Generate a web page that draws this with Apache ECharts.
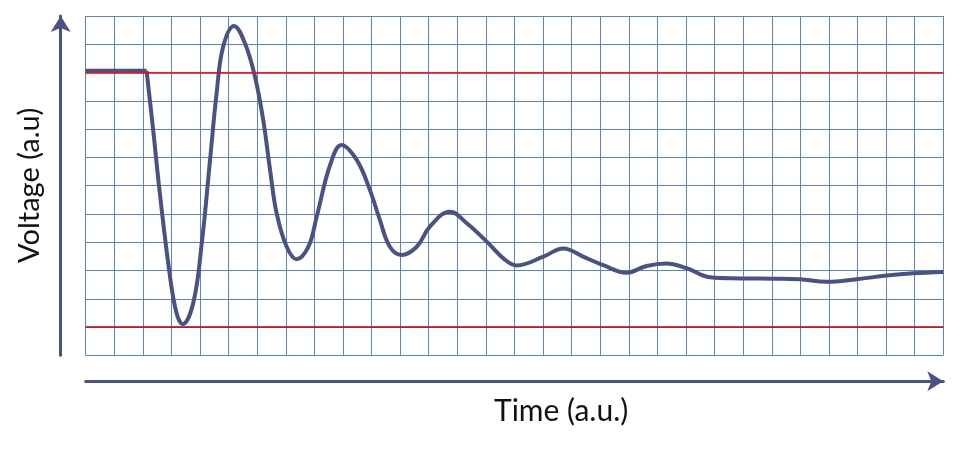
<!DOCTYPE html>
<html>
<head>
<meta charset="utf-8">
<script src="https://cdn.jsdelivr.net/npm/echarts@6/dist/echarts.min.js"></script>
<style>
html,body{margin:0;padding:0;background:#fff;}
#chart{width:962px;height:454px;}
</style>
</head>
<body>
<div id="chart"></div>
<script>
// Data (time in grid units, voltage in grid units)
const timeValues = [0, 2.13, 2.36, 2.60, 2.95, 3.18, 3.39, 3.76, 4.06, 4.35, 4.58, 4.81, 5.19, 5.57, 5.92, 6.21, 6.45, 6.68, 7.03, 7.38, 7.79, 8.08, 8.55, 8.95, 9.48, 9.94, 10.29, 10.64, 11.05, 11.58, 12.04, 12.74, 13.33, 14.03, 14.61, 15.08, 16.01, 16.71, 17.40, 18.10, 18.92, 19.62, 20.30, 21.02, 21.84, 22.89, 24.05, 24.98, 25.92, 26.97, 28.02, 28.95, 30];
const voltageValues = [10.06, 10.06, 7.97, 5.67, 2.78, 1.49, 1.10, 1.84, 3.96, 6.91, 9.27, 10.92, 11.65, 11.04, 9.86, 8.32, 6.55, 5.02, 3.84, 3.40, 3.84, 4.90, 6.73, 7.44, 6.91, 5.85, 4.79, 3.84, 3.55, 3.84, 4.55, 5.08, 4.67, 4.02, 3.43, 3.18, 3.49, 3.78, 3.49, 3.19, 2.92, 3.16, 3.25, 3.08, 2.76, 2.72, 2.71, 2.69, 2.60, 2.69, 2.82, 2.90, 2.95];
const stepIndex = 1; // last point of the flat start
const referenceLevels = [10, 1];
const xRange = [0, 30];
const yRange = [0, 12];
const xTitle = 'Time (a.u.)';
const yTitle = 'Voltage (a.u)';

const curve = timeValues.map((t, i) => [t, voltageValues[i]]);
const flatPart = curve.slice(0, stepIndex + 1);
const ringPart = curve.slice(stepIndex);
const ink = '#4a5183';
const gridBlue = '#5b82cf';
const font = 'Lato, "Open Sans", sans-serif';

const chart = echarts.init(document.getElementById('chart'), null, {renderer: 'canvas'});
const axisCommon = {
  type: 'value', interval: 1,
  axisTick: {show: false}, axisLabel: {show: false},
  splitLine: {show: true, lineStyle: {color: gridBlue, width: 1}}
};
chart.setOption({
  animation: false,
  backgroundColor: '#ffffff',
  grid: {left: 85.7, top: 16, right: 18.7, bottom: 98.7, outerBoundsMode: 'none', containLabel: false},
  xAxis: Object.assign({}, axisCommon, {
    min: xRange[0], max: xRange[1], offset: 26,
    axisLine: {show: true, onZero: false, symbol: ['none', 'arrow'], symbolSize: [15, 16], lineStyle: {color: ink, width: 3}}
  }),
  yAxis: Object.assign({}, axisCommon, {
    min: yRange[0], max: yRange[1], offset: 25,
    axisLine: {show: true, onZero: false, symbol: ['none', 'arrow'], symbolSize: [15, 16], lineStyle: {color: ink, width: 3}}
  }),
  graphic: [
    {type: 'text', left: 494, top: 396, style: {text: xTitle, font: '30px ' + font, fill: '#111'}},
    {type: 'text', x: 30, y: 263, rotation: Math.PI / 2, style: {text: yTitle, font: '29px ' + font, fill: '#111', textVerticalAlign: 'middle'}}
  ],
  series: [
    {
      type: 'line', data: [], z: 1, silent: true,
      markLine: {
        silent: true, symbol: 'none', label: {show: false},
        data: [
          {yAxis: referenceLevels[0], lineStyle: {color: '#ff0000', width: 1.5, type: 'solid'}},
          {yAxis: referenceLevels[1], lineStyle: {color: '#c00000', width: 1.5, type: 'solid'}}
        ]
      }
    },
    {
      type: 'line', data: flatPart, z: 3, showSymbol: false,
      lineStyle: {color: ink, width: 4}
    },
    {
      type: 'line', data: ringPart, z: 3, smooth: 0.4, showSymbol: false,
      lineStyle: {color: ink, width: 4}
    }
  ]
});
</script>
</body>
</html>
